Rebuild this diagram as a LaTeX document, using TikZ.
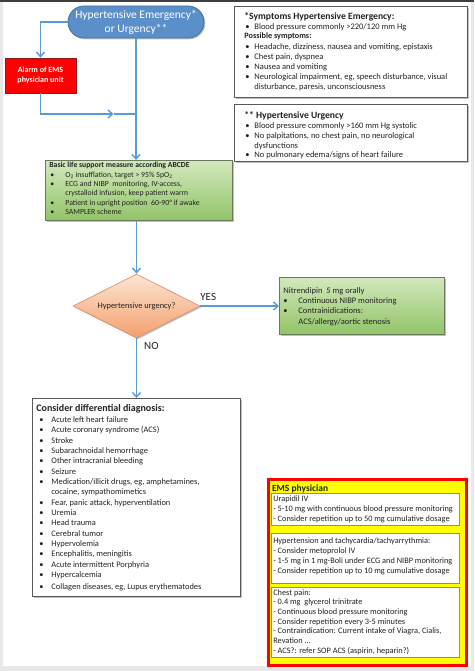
\documentclass[tikz,border=0pt]{standalone}
\usepackage{fontspec}
\setmainfont{Carlito}
\usetikzlibrary{arrows.meta,shapes.geometric,shadows}
\definecolor{lineblue}{HTML}{5B9BD5}
\definecolor{topblue}{HTML}{5B8FCA}
\definecolor{topborder}{HTML}{41719C}
\definecolor{boxgray}{HTML}{595959}
\definecolor{greenborder}{HTML}{6A7A5C}
\definecolor{txt}{HTML}{222222}
\definecolor{grtop}{HTML}{D3E8BD}
\definecolor{grbot}{HTML}{92C468}
\definecolor{ortop}{HTML}{FCE4D2}
\definecolor{orbot}{HTML}{F3A06E}
\definecolor{orborder}{HTML}{E0926A}
\definecolor{emsyellow}{HTML}{FFFF00}
\definecolor{emsred}{HTML}{FF0000}
\definecolor{alarmborder}{HTML}{8B1A1A}
\definecolor{framegray}{HTML}{E8E8E8}
\definecolor{topbar}{HTML}{3F3F3F}
\newlength\bulo
\newlength\txin
\newcommand{\bitem}[1]{\par\noindent\hangindent=\txin\hangafter=1\makebox[\txin][l]{\hspace*{\bulo}\textbullet}#1}
\newcommand{\boxcontent}[3]{\begin{minipage}[t][#2][t]{#1}\raggedright#3\end{minipage}}
\tikzset{
  shadowed/.style={drop shadow={shadow xshift=1.3pt, shadow yshift=-1.3pt, opacity=0.25, fill=black}},
  infobox/.style={draw=boxgray, line width=0.9pt, fill=white, inner ysep=0pt, anchor=north west, text=txt, shadowed},
  greenbox/.style={draw=greenborder, line width=0.8pt, top color=grtop, bottom color=grbot, inner ysep=0pt, anchor=north west, text=txt, shadowed},
  emsinner/.style={draw=black!45, line width=0.6pt, fill=white, inner xsep=2pt, inner ysep=0pt, anchor=north west, text=txt},
  topnode/.style={fill=topblue, draw=topborder, line width=0.8pt, rounded corners=16pt, minimum width=136pt, minimum height=32pt, inner sep=0pt, align=center, text=white, font=\fontsize{11.5}{14}\selectfont, shadowed},
  alarmbox/.style={fill=emsred, draw=alarmborder, line width=0.6pt, minimum width=71pt, minimum height=35pt, inner sep=0pt, align=center, text=white, font=\fontsize{8}{10}\selectfont\bfseries},
  decision/.style={diamond, aspect=2, draw=orborder, line width=0.7pt, top color=ortop, bottom color=orbot, minimum width=127pt, minimum height=64pt, inner sep=0pt, text=txt, font=\fontsize{8.4}{10}\selectfont, shadowed},
  conn/.style={draw=lineblue, line width=1.4pt},
  arr/.style={-{Straight Barb[length=4.5pt,width=8pt]}},
  branchlabel/.style={text=txt, font=\fontsize{11}{13}\selectfont, inner sep=0pt}
}
\begin{document}
\begin{tikzpicture}[x=1pt,y=-1pt]
\useasboundingbox (0,0) rectangle (474,671);
% frame
\fill[white] (0,0) rectangle (474,671);
\fill[framegray] (0,0) rectangle (2.5,671);
\fill[framegray] (0,666) rectangle (474,671);
\fill[framegray] (471,0) rectangle (474,671);
\fill[topbar] (0,0) rectangle (474,2);

% start node
\node[topnode] (top) at (136,22) {Hypertensive Emergency*\\or Urgency**};
% alarm
\node[alarmbox] (alarm) at (40.5,75.5) {Alarm of EMS\\physician unit};

% symptoms box
\node[infobox, inner xsep=10pt] (sym) at (234,6) {\boxcontent{213pt}{91pt}{%
  \setlength\bulo{1pt}\setlength\txin{10pt}%
  {\fontsize{9.6}{11}\selectfont\bfseries\rule{0pt}{12.7pt}*Symptoms Hypertensive Emergency:\par}%
  \fontsize{8.5}{10}\selectfont
  \bitem{Blood pressure commonly >220/120 mm Hg}
  \par\vspace{-0.6pt}{\fontsize{8.2}{10}\selectfont\bfseries Possible symptoms:}
  \par\vspace{1.2pt}\bitem{Headache, dizziness, nausea and vomiting, epistaxis}
  \bitem{Chest pain, dyspnea}
  \bitem{Nausea and vomiting}
  \bitem{Neurological impairment, eg, speech disturbance, visual\newline disturbance, paresis, unconsciousness}\par}};

% urgency box
\node[infobox, inner xsep=10pt] (urg) at (234,104) {\boxcontent{213pt}{57pt}{%
  \setlength\bulo{1pt}\setlength\txin{10pt}%
  {\fontsize{9.6}{11}\selectfont\bfseries\rule{0pt}{14pt}** Hypertensive Urgency\par}%
  \fontsize{8.5}{9.6}\selectfont
  \vspace{0.9pt}%
  \bitem{Blood pressure commonly >160 mm Hg systolic}
  \bitem{No palpitations, no chest pain, no neurological\newline dysfunctions}
  \bitem{No pulmonary edema/signs of heart failure}\par}};

% BLS box
\node[greenbox, inner xsep=4pt] (bls) at (45,160) {\boxcontent{179pt}{60pt}{%
  \setlength\bulo{1pt}\setlength\txin{16pt}%
  {\fontsize{7.7}{9.35}\selectfont\bfseries\rule{0pt}{6.8pt}Basic life support measure according ABCDE\par}%
  \fontsize{7.8}{9.35}\selectfont
  \vspace{0.65pt}%
  \bitem{O\textsubscript{2} insufflation, target > 95\% SpO\textsubscript{2}}
  \bitem{ECG and NIBP\ \ monitoring, IV-access,\newline crystalloid infusion, keep patient warm}
  \bitem{Patient in upright position\ \ 60-90° if awake}
  \bitem{SAMPLER scheme}\par}};

% decision
\node[decision] (dec) at (136.5,306) {Hypertensive urgency?};

% nitrendipin box
\node[greenbox, inner xsep=4pt] (nit) at (279,277) {\boxcontent{157pt}{57pt}{%
  \setlength\bulo{0pt}\setlength\txin{15pt}%
  \fontsize{8.5}{10.3}\selectfont
  \rule{0pt}{15.7pt}Nitrendipin\ \ 5 mg orally
  \bitem{Continuous NIBP monitoring}
  \bitem{Contrainidications:\newline ACS/allergy/aortic stenosis}\par}};

% differential diagnosis
\node[infobox, inner xsep=4pt] (diff) at (32,398) {\boxcontent{200pt}{198pt}{%
  \setlength\bulo{3pt}\setlength\txin{15pt}%
  {\fontsize{10}{12}\selectfont\bfseries\rule{0pt}{13.5pt}Consider differential diagnosis:\par}%
  \fontsize{8.4}{10.33}\selectfont
  \vspace{0.2pt}%
  \bitem{Acute left heart failure}
  \bitem{Acute coronary syndrome (ACS)}
  \bitem{Stroke}
  \bitem{Subarachnoidal hemorrhage}
  \bitem{Other intracranial bleeding}
  \bitem{Seizure}
  \bitem{Medication/illicit drugs, eg, amphetamines,\newline cocaine, sympathomimetics}
  \bitem{Fear, panic attack, hyperventilation}
  \bitem{Uremia}
  \bitem{Head trauma}
  \bitem{Cerebral tumor}
  \bitem{Hypervolemia}
  \bitem{Encephalitis, meningitis}
  \bitem{Acute intermittent Porphyria}
  \bitem{Hypercalcemia}
  \par\vspace{1.4pt}\bitem{Collagen diseases, eg, Lupus erythematodes}\par}};

% EMS physician box
\node[draw=emsred, line width=3pt, fill=emsyellow, inner xsep=4pt, inner ysep=0pt, anchor=north west, text=txt, shadowed] (ems) at (266.5,478) {\boxcontent{190pt}{186pt}{%
  {\fontsize{9.5}{11}\selectfont\bfseries\rule{0pt}{11.7pt}EMS physician\par}}};
\node[emsinner] (ura) at (271,493) {\boxcontent{184pt}{32pt}{%
  \fontsize{8.3}{10}\selectfont
  \rule{0pt}{8.2pt}Urapidil IV\par
  - 5-10 mg with continuous blood pressure monitoring\par
  - Consider repetition up to 50 mg cumulative dosage\par}};
\node[emsinner] (meto) at (271,533) {\boxcontent{184pt}{50pt}{%
  \fontsize{8.3}{10}\selectfont
  \rule{0pt}{10pt}Hypertension and tachycardia/tachyarrythmia:\par
  - Consider metoprolol IV\par
  - 1-5 mg in 1 mg-Boli under ECG and NIBP monitoring\par
  - Consider repetition up to 10 mg cumulative dosage\par}};
\node[emsinner] (chest) at (271,587) {\boxcontent{184pt}{70pt}{%
  \fontsize{8.3}{9.67}\selectfont
  \rule{0pt}{7.7pt}Chest pain:\par
  - 0.4 mg\ \ glycerol trinitrate\par
  - Continuous blood pressure monitoring\par
  - Consider repetition every 3-5 minutes\par
  - Contraindication: Current intake of Viagra, Cialis,\par
  Revation ...\par
  - ACS?: refer SOP ACS (aspirin, heparin?)\par}};

% connectors
\coordinate (mid) at (113.5,114);
\coordinate (join) at (top.south |- mid);
\draw[conn, arr] (top.west) -| (alarm.north);
\draw[conn, arr] (alarm.south) |- (mid);
\draw[conn] (mid) -- (join);
\draw[conn, arr] (top.south) -- (bls.north -| top.south);
\draw[conn, arr] (bls.south -| dec.north) -- (dec.north);
\draw[conn, arr] (dec.east) -- (dec.east -| nit.west)
  node[branchlabel, pos=0.1, above=5pt] (yes) {YES};
\draw[conn, arr] (dec.south) -- (diff.north -| dec.south)
  node[branchlabel, pos=0.13, right=7pt] (no) {NO};
\end{tikzpicture}
\end{document}
